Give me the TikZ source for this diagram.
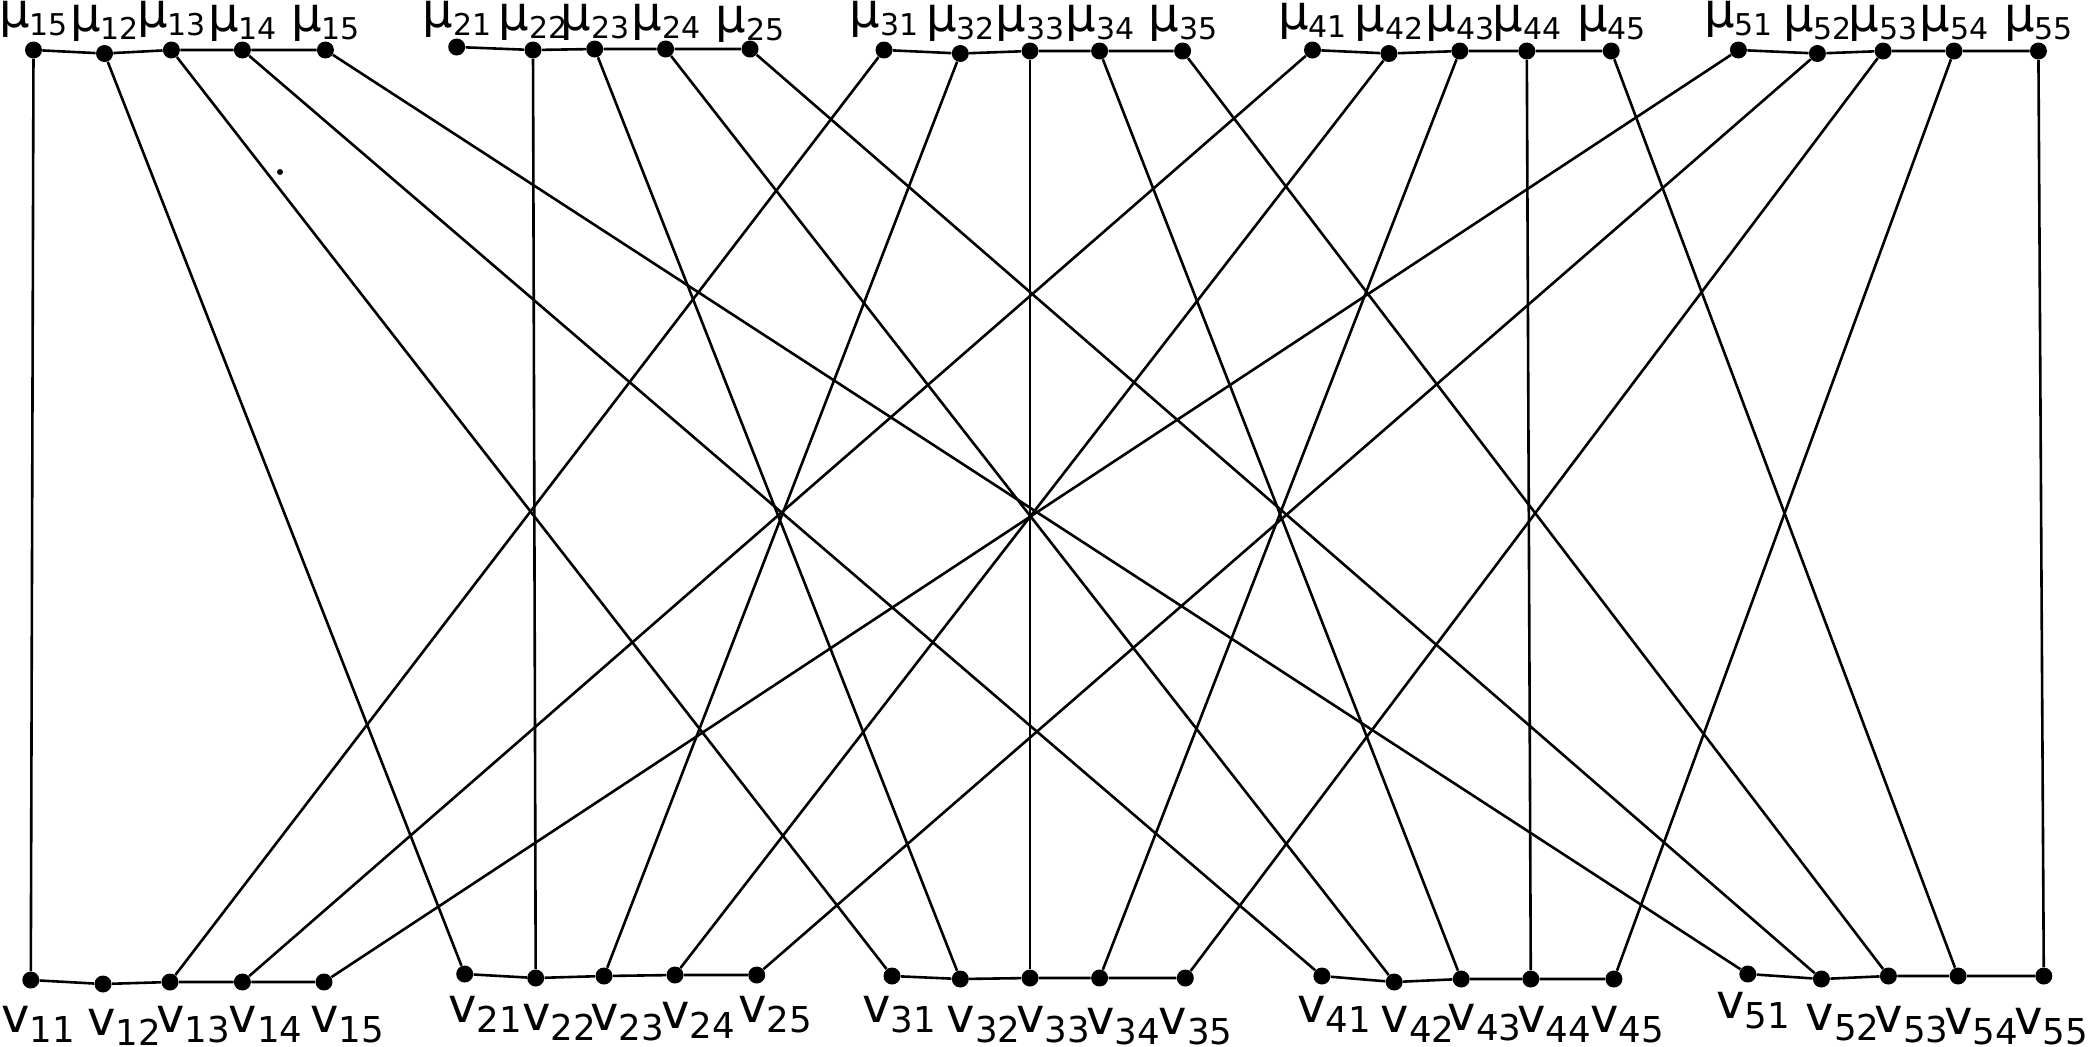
\documentclass[tikz,border=0pt]{standalone}
\usepackage{fontspec}
\setmainfont{DejaVu Sans}
\newcommand{\mulab}[1]{\llap{\fontsize{24}{24}\selectfont μ}\raisebox{-4pt}{\fontsize{15}{15}\selectfont #1}}
\newcommand{\vlab}[1]{{\fontsize{24}{25}\selectfont v}\raisebox{-5pt}{\fontsize{17.8}{18}\selectfont #1}}
\begin{document}
\begin{tikzpicture}[x=0.5pt,y=-0.5pt,
  dot/.style={circle,fill=black,inner sep=0pt,minimum size=8.5pt},
  smalldot/.style={circle,fill=black,inner sep=0pt,minimum size=3pt},
  lab/.style={inner sep=0pt,anchor=base west},
  edge/.style={line width=1.3pt}]
\useasboundingbox (0,0) rectangle (2100,1046);
% top dots and labels
\foreach \n/\x/\y/\t/\yb in {
 m11/33.5/50/15/27, m12/104.5/53.5/12/31, m13/171.4/50/13/27, m14/242.4/50/14/31, m15/325.4/50/15/31,
 m21/456.7/47/21/27, m22/533/50/22/30, m23/594.7/49/23/30, m24/665.6/49/24/30, m25/750/49/25/32,
 m31/884/50/31/27, m32/960.3/53.5/32/31, m33/1030/51/33/31, m34/1099.6/51/34/31, m35/1182.6/51/35/31,
 m41/1312.5/50/41/29, m42/1388.9/53.5/42/31, m43/1459.8/51/43/31, m44/1526.8/51/44/31, m45/1611.2/51/45/31,
 m51/1738.4/50/51/27, m52/1817.4/53.5/52/31, m53/1883.1/51/53/31, m54/1954/51/54/31, m55/2038.4/51/55/31}
{
  \node[dot] (\n) at (\x,\y) {};
  \node[lab] (l\n) at (\x-4,\yb) {\mulab{\t}};
}
% bottom dots and labels
\foreach \n/\x/\y/\t/\xo/\yb in {
 n11/30.8/980/11/-16/1032, n12/103/984/12/-2/1035, n13/170/982/13/0/1032, n14/242.4/982/14/0/1032, n15/324/982/15/0/1032,
 n21/464.7/974/21/-3/1022, n22/535.7/978/22/0/1030, n23/604/976/23/0/1030, n24/675/975/24/0/1028, n25/756.7/975/25/-5/1022,
 n31/892/976/31/-16/1022, n32/960.3/979/32/0/1032, n33/1030/978/33/0/1032, n34/1099.6/978/34/0/1034, n35/1185.3/978/35/-13/1034,
 n41/1321.9/976/41/-11/1022, n42/1394.2/982/42/0/1032, n43/1461.2/979/43/0/1030, n44/1530.8/979/44/0/1032, n45/1613.9/979/45/-10/1032,
 n51/1747.8/974/51/-18/1018, n52/1821.4/979/52/-2/1030, n53/1888.4/976/53/0/1032, n54/1958.1/976/54/0/1034, n55/2043.8/976/55/-16/1034}
{
  \node[dot] (\n) at (\x,\y) {};
  \node[lab] (l\n) at (\x+\xo-14,\yb) {\vlab{\t}};
}
\node[smalldot] (stray) at (280,172) {};
% horizontal group lines
\foreach \g in {1,...,5}{
  \draw[edge] (m\g1) -- (m\g2) -- (m\g3) -- (m\g4) -- (m\g5);
  \draw[edge] (n\g1) -- (n\g2) -- (n\g3) -- (n\g4) -- (n\g5);
}
% connectors
\foreach \a/\b in {m11/n11, m12/n21, m13/n31, m14/n41, m15/n51,
  m22/n22, m23/n32, m24/n42, m25/n52,
  m31/n13, m32/n23, m33/n33, m34/n43, m35/n53,
  m41/n14, m42/n24, m43/n34, m44/n44, m45/n54,
  m51/n15, m52/n25, m53/n35, m54/n45, m55/n55}
  \draw[edge] (\a) -- (\b);
\end{tikzpicture}
\end{document}
